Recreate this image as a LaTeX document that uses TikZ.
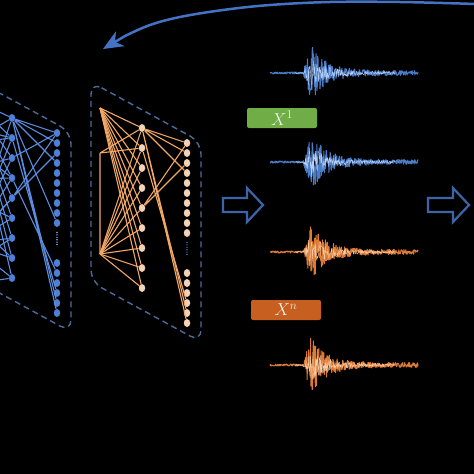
\documentclass[tikz,border=0pt]{standalone}
\usetikzlibrary{shapes.geometric,arrows.meta}
\definecolor{bline}{HTML}{5A8DE0}
\definecolor{bnode}{HTML}{4F80D8}
\definecolor{bdots}{HTML}{8FB0E8}
\definecolor{oline}{HTML}{F2A765}
\definecolor{onode}{HTML}{F4D2B8}
\definecolor{odots}{HTML}{3A66B0}
\definecolor{panelc}{HTML}{4D6A9C}
\definecolor{arrowc}{HTML}{4472C4}
\definecolor{blockc}{HTML}{3D64A8}
\definecolor{wblue}{HTML}{4A7CC8}
\definecolor{wbluel}{HTML}{B4CDF2}
\definecolor{worange}{HTML}{E07B35}
\definecolor{worangel}{HTML}{F7CBA4}
\definecolor{gbox}{HTML}{70AD47}
\definecolor{obox}{HTML}{C65F1F}
\definecolor{labc}{HTML}{EEF3E8}
\tikzset{
  nn/.style={ellipse, minimum width=6.5pt, minimum height=8pt, inner sep=0pt, draw=none},
  edge/.style={line width=1.1pt},
  panel/.style={draw=panelc, fill=black, line width=1.4pt, dash pattern=on 6pt off 4pt, rounded corners=12pt},
  blockarrow/.style={draw=blockc, line width=2.2pt, line join=miter},
  labelbox/.style={rounded corners=2pt, minimum width=70pt, minimum height=20pt, inner sep=0pt, text=labc, font=\fontsize{18}{18}\selectfont},
  declare function={env(\t)=(\t<303) ? 1.0 : ((\t<311) ? (1+(\t-303)*3.4) : (2.4+26*exp(-(\t-311)/16)));}
}
\newcommand\drawnet[3]{%
  \coordinate (a) at (100,108);
  \coordinate (b) at (100,254);
  \coordinate (c) at (100,153);
  \foreach \i in {1,...,9} \node[nn,fill=#2] (h\i) at (142,{128+20*(\i-1)}) {};
  \foreach \i in {1,...,10} \node[nn,fill=#2] (o\i) at (187,{143+10*(\i-1)}) {};
  \foreach \i in {11,...,16} \node[nn,fill=#2] (o\i) at (187,{273+10*(\i-11)}) {};
  \foreach \i in {0,...,5} \fill[#3] (187,{242.5+2.4*\i}) circle (0.8pt);
  \foreach \i in {1,...,9} \draw[edge,#1] (a) -- (h\i) (b) -- (h\i);
  \draw[edge,#1] (c) -- (h1) (c) -- (h2) (c) -- (b);
  \draw[edge,#1] (h1) -- (o1) (h1) -- (o2) (h1) -- (o4) (h1) -- (o15) (h1) -- (o16);
  \draw[edge,#1] (h5) -- (o1) (h5) -- (o3) (h2) -- (o14);
}
\newcommand\wave[5]{%
  \pgfmathsetseed{#1}
  \draw[#3, line width=1pt, line join=round] plot[domain=270:418, samples=380, variable=\t] (\t, {#2 + env(\t)*rand});
  \pgfmathsetseed{#4}
  \draw[#5, line width=0.4pt, line join=round] plot[domain=295:395, samples=220, variable=\t] (\t, {#2 + 0.6*env(\t)*rand});
}
\begin{document}
\begin{tikzpicture}[x=1pt, y=-1pt]
\useasboundingbox (0,0) rectangle (474,474);
\fill[black] (0,0) rectangle (474,474);
\clip (0,0) rectangle (474,474);

% blue network panel (cut by the left edge)
\begin{scope}[shift={(-130,-10)}, name prefix=bl-]
  \draw[panel] (91,82) -- (201,142) -- (201,342) -- (91,282) -- cycle;
  \drawnet{bline}{bnode}{bdots}
  \coordinate (d) at (60,190);
  \coordinate (e) at (60,300);
  \coordinate (f) at (70,130);
  \draw[edge,bline] (d) -- (h3) (d) -- (h4) (d) -- (h6) (d) -- (h8)
        (e) -- (h5) (e) -- (h7) (e) -- (h9) (f) -- (h2) (f) -- (h4)
        (h1) -- (o10) (h3) -- (o1) (h4) -- (o12);
\end{scope}

% orange network panel
\begin{scope}[name prefix=or-]
  \draw[panel] (91,82) -- (201,142) -- (201,342) -- (91,282) -- cycle;
  \drawnet{oline}{onode}{odots}
\end{scope}

% hollow block arrows
\draw[blockarrow] (223,198) -- (247,198) -- (247,188) -- (263,205) -- (247,222) -- (247,212) -- (223,212) -- cycle;
\draw[blockarrow] (428,198) -- (453,198) -- (453,188) -- (469,205) -- (453,222) -- (453,212) -- (428,212) -- cycle;

% waveforms
\wave{11}{73}{wblue}{21}{wbluel}
\wave{12}{162}{wblue}{22}{wbluel}
\wave{13}{252}{worange}{23}{worangel}
\wave{14}{365}{worange}{24}{worangel}

% labels
\node[labelbox, fill=gbox] (x1) at (282,118) {$X^1$};
\node[labelbox, fill=obox] (xn) at (286,310) {$X^n$};

% feedback arrow along the top
\draw[arrowc, line width=2.5pt, -{Stealth[length=20pt,width=17pt,inset=6pt]}]
  plot[smooth, tension=0.6] coordinates {(476,4) (400,2) (330,2) (270,5) (223,10) (180,17) (150,25) (125,36)} -- (103,49);
\end{tikzpicture}
\end{document}
